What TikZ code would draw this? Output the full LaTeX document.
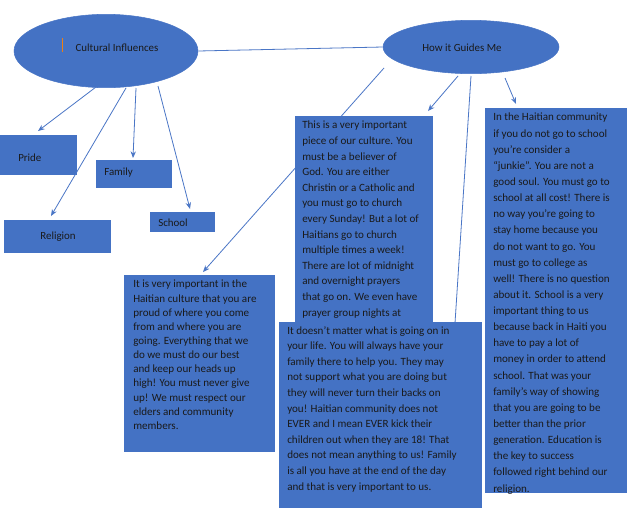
\documentclass[tikz,border=0pt]{standalone}
\usepackage{fontspec}
\setmainfont{Carlito}
\usetikzlibrary{arrows.meta,shapes.geometric}
\definecolor{bfill}{HTML}{4472C4}
\definecolor{bline}{HTML}{4A76C6}
\definecolor{txt}{HTML}{1A1A1A}
\begin{document}
\begin{tikzpicture}[x=0.75pt,y=-0.75pt,
  bx/.style={draw=none,fill=bfill,inner sep=0pt},
  el/.style={ellipse,draw=bline,fill=bfill,inner sep=0pt},
  conn/.style={draw=bline,line width=0.6pt},
  arr/.style={conn,-{Stealth[length=5pt,width=4pt]}},
  lbl/.style={text=txt,font=\fontsize{8.2pt}{10pt}\selectfont,inner sep=0pt},
  para/.style={text=txt,align=left,anchor=north west,inner sep=0pt}]
\useasboundingbox (0,0) rectangle (638,522);
\fill[white] (0,0) rectangle (638,522);
% ellipses
\node[el,minimum width=138pt,minimum height=55pt] (ci) at (106,51) {};
\node[el,minimum width=132pt,minimum height=40pt] (hg) at (471,47) {};
% small boxes
\path (38.5,155) node[bx,minimum width=57.75pt,minimum height=30pt] (pride) {};
\path (134,174) node[bx,minimum width=57pt,minimum height=21pt] (family) {};
\path (57.5,236.5) node[bx,minimum width=80.25pt,minimum height=24.75pt] (religion) {};
\path (182.5,222) node[bx,minimum width=48.75pt,minimum height=15pt] (school) {};
% connectors (behind big boxes)
\draw[conn] (ci.east) -- (hg.west);
\draw[arr] (96,87) -- (38,131);
\draw[arr] (126,88) -- (51,216);
\draw[arr] (136,88) -- (133,158);
\draw[arr] (158,86) -- (190,209);
\draw[arr] (384,68) -- (203,272);
\draw[arr] (458,76) -- (428,111);
\draw[conn] (471,76) -- (455,323);
\draw[arr] (505,78) -- (516,104);
% big boxes
\node[bx,minimum width=113.25pt,minimum height=132.75pt] (prideT) at (199.5,363.5) {};
\node[bx,minimum width=103.5pt,minimum height=154.5pt] (relT) at (364,219) {};
\node[bx,minimum width=106.5pt,minimum height=288.75pt] (schT) at (556,300.5) {};
\node[bx,minimum width=152.25pt,minimum height=139.5pt] (famT) at (380.5,415) {};
% small box labels
\node[lbl,anchor=west] (tpride) at (18,158) {Pride};
\node[lbl,anchor=west] (tfamily) at (104,173) {Family};
\node[lbl] (treligion) at (58,237) {Religion};
\node[lbl,anchor=west] (tschool) at (158,223) {School};
\node[lbl] (tci) at (117,48) {Cultural Influences};
\draw[orange!70!brown,line width=0.5pt] (62,38) -- (62,52);
\node[lbl] (thg) at (462,48) {How it Guides Me};
% paragraphs
\node[para,font=\fontsize{8.3pt}{11.7pt}\selectfont] (p1) at (302,121) {This is a very important\\piece of our culture. You\\must be a believer of\\God. You are either\\Christin or a Catholic and\\you must go to church\\every Sunday! But a lot of\\Haitians go to church\\multiple times a week!\\There are lot of midnight\\and overnight prayers\\that go on. We even have\\prayer group nights at};
\node[para,font=\fontsize{8.3pt}{12.1pt}\selectfont] (p2) at (493,113) {In the Haitian community\\if you do not go to school\\you’re consider a\\“junkie”. You are not a\\good soul. You must go to\\school at all cost! There is\\no way you’re going to\\stay home because you\\do not want to go. You\\must go to college as\\well! There is no question\\about it. School is a very\\important thing to us\\because back in Haiti you\\have to pay a lot of\\money in order to attend\\school. That was your\\family’s way of showing\\that you are going to be\\better than the prior\\generation. Education is\\the key to success\\followed right behind our\\religion.};
\node[para,font=\fontsize{8.3pt}{11.7pt}\selectfont] (p3) at (287,326) {It doesn’t matter what is going on in\\your life. You will always have your\\family there to help you. They may\\not support what you are doing but\\they will never turn their backs on\\you! Haitian community does not\\EVER and I mean EVER kick their\\children out when they are 18! That\\does not mean anything to us! Family\\is all you have at the end of the day\\and that is very important to us.};
\node[para,font=\fontsize{8.3pt}{10.6pt}\selectfont] (p4) at (133,280) {It is very important in the\\Haitian culture that you are\\proud of where you come\\from and where you are\\going. Everything that we\\do we must do our best\\and keep our heads up\\high! You must never give\\up! We must respect our\\elders and community\\members.};
\end{tikzpicture}
\end{document}
